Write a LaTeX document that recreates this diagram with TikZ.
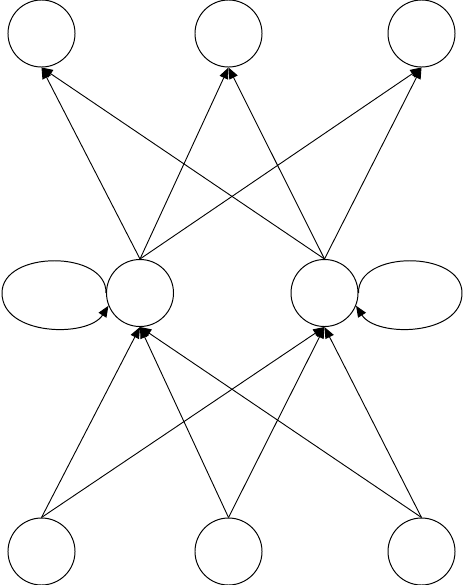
\documentclass[tikz,border=0pt]{standalone}
\usetikzlibrary{arrows.meta}
\tikzset{
  unit/.style={draw, circle, line width=0.7pt, minimum size=1.675cm, inner sep=0pt},
  link/.style={line width=0.65pt, -{Triangle[length=8pt,width=6.5pt]}}
}
\begin{document}
\begin{tikzpicture}[x=0.025cm, y=-0.025cm]
		\useasboundingbox (0,0) rectangle (464,585);
		% output layer
		\node[unit] (o1) at (41.5,33.5) {};
		\node[unit] (o2) at (228.5,33.5) {};
		\node[unit] (o3) at (421.5,33.5) {};
		% hidden layer
		\node[unit] (h1) at (140,293) {};
		\node[unit] (h2) at (324.5,293) {};
		% input layer
		\node[unit] (i1) at (41.5,551.5) {};
		\node[unit] (i2) at (228.5,551.5) {};
		\node[unit] (i3) at (421.5,551.5) {};
		\coordinate (l1) at (2,293);
		\coordinate (l2) at (462,293);
		\foreach \a in {i1,i2,i3}
			\foreach \b in {h1,h2}
				\draw[link] (\a.north) -- (\b.south);
		\foreach \a in {h1,h2}
			\foreach \b in {o1,o2,o3}
				\draw[link] (\a.north) -- (\b.south);
		% recurrent loops
		\draw[line width=0.7pt] (h1.west) .. controls (107,250) and (2,250) .. (l1);
		\draw[link, line width=0.7pt] (l1) .. controls (2,336) and (88,338) .. (h1.202);
		\draw[line width=0.7pt] (h2.east) .. controls (357.5,250) and (462,250) .. (l2);
		\draw[link, line width=0.7pt] (l2) .. controls (462,336) and (376.5,338) .. (h2.-22);
	\end{tikzpicture}
\end{document}
